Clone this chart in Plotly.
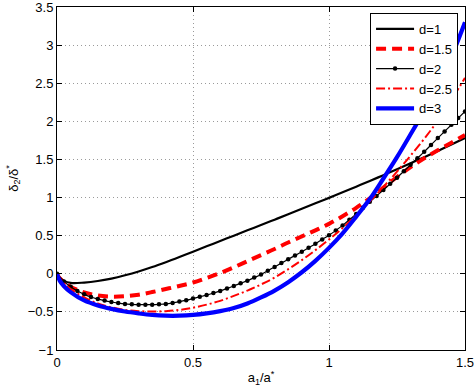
import plotly.graph_objects as go

# x grid (a1/a*) for the smooth curves
x_main = [0, 0.01, 0.025, 0.05, 0.1, 0.15, 0.2, 0.25, 0.3, 0.35, 0.4, 0.45, 0.5,
          0.55, 0.6, 0.65, 0.7, 0.75, 0.8, 0.85, 0.9, 0.95, 1.0, 1.05, 1.1,
          1.15, 1.2, 1.25, 1.3, 1.35, 1.4, 1.45, 1.5]

y_d1 = [0, -0.05, -0.09, -0.12, -0.115, -0.095, -0.063, -0.02, 0.03, 0.088, 0.152, 0.22, 0.29,
        0.36, 0.43, 0.50, 0.57, 0.64, 0.71, 0.781, 0.852, 0.924, 0.996, 1.069, 1.143,
        1.218, 1.294, 1.371, 1.45, 1.53, 1.612, 1.695, 1.78]

y_d15 = [0, -0.06, -0.11, -0.17, -0.245, -0.285, -0.30, -0.295, -0.275, -0.24, -0.20, -0.16, -0.115,
         -0.055, 0.01, 0.085, 0.165, 0.245, 0.325, 0.41, 0.49, 0.57, 0.655, 0.755, 0.865,
         0.99, 1.13, 1.27, 1.40, 1.515, 1.62, 1.72, 1.82]

y_d25 = [0, -0.07, -0.12, -0.20, -0.31, -0.39, -0.44, -0.475, -0.49, -0.495, -0.49, -0.475, -0.445,
         -0.405, -0.355, -0.29, -0.22, -0.14, -0.05, 0.06, 0.18, 0.31, 0.45, 0.60, 0.77,
         0.95, 1.14, 1.34, 1.55, 1.77, 2.01, 2.28, 2.57]

y_d3 = [0, -0.09, -0.16, -0.24, -0.35, -0.415, -0.46, -0.495, -0.52, -0.54, -0.55, -0.55, -0.54,
        -0.52, -0.49, -0.45, -0.39, -0.31, -0.22, -0.11, 0.02, 0.17, 0.34, 0.53, 0.75,
        0.98, 1.25, 1.53, 1.83, 2.14, 2.47, 2.85, 3.3]

# d=2 curve is drawn with dense markers, so it is read on a finer grid
x_d2 = [0, 0.025, 0.05, 0.075, 0.1, 0.125, 0.15, 0.175, 0.2, 0.225, 0.25, 0.275, 0.3,
        0.325, 0.35, 0.375, 0.4, 0.425, 0.45, 0.475, 0.5, 0.525, 0.55, 0.575, 0.6,
        0.625, 0.65, 0.675, 0.7, 0.725, 0.75, 0.775, 0.8, 0.825, 0.85, 0.875, 0.9,
        0.925, 0.95, 0.975, 1.0, 1.025, 1.05, 1.075, 1.1, 1.125, 1.15, 1.175, 1.2,
        1.225, 1.25, 1.275, 1.3, 1.325, 1.35, 1.375, 1.4, 1.425, 1.45, 1.475, 1.5]
y_d2 = [0, -0.10, -0.17, -0.225, -0.27, -0.305, -0.33, -0.352, -0.37, -0.384, -0.395, -0.401, -0.405,
        -0.406, -0.405, -0.401, -0.395, -0.382, -0.365, -0.346, -0.325, -0.303, -0.28, -0.253, -0.225,
        -0.193, -0.16, -0.125, -0.09, -0.05, -0.01, 0.04, 0.09, 0.14, 0.19, 0.24, 0.29,
        0.342, 0.395, 0.45, 0.505, 0.568, 0.635, 0.708, 0.785, 0.865, 0.945, 1.022, 1.10,
        1.18, 1.26, 1.345, 1.43, 1.515, 1.60, 1.69, 1.78, 1.868, 1.955, 2.043, 2.13]

names = ["d=1", "d=1.5", "d=2", "d=2.5", "d=3"]

x_ticks = [0, 0.5, 1, 1.5]
y_ticks = [-1, -0.5, 0, 0.5, 1, 1.5, 2, 2.5, 3, 3.5]

FONT = "Liberation Sans, Arial, sans-serif"

fig = go.Figure()
fig.add_trace(go.Scatter(x=x_main, y=y_d1, name=names[0], mode="lines",
                         line=dict(color="black", width=2.2, shape="spline")))
fig.add_trace(go.Scatter(x=x_main, y=y_d15, name=names[1], mode="lines",
                         line=dict(color="#ff0000", width=4, dash="10px,6px", shape="spline")))
fig.add_trace(go.Scatter(x=x_d2, y=y_d2, name=names[2], mode="lines+markers",
                         line=dict(color="black", width=1.2, shape="spline"),
                         marker=dict(color="black", size=4.5, symbol="circle")))
fig.add_trace(go.Scatter(x=x_main, y=y_d25, name=names[3], mode="lines",
                         line=dict(color="#ff0000", width=2, dash="9px,3px,2px,3px", shape="spline")))
fig.add_trace(go.Scatter(x=x_main, y=y_d3, name=names[4], mode="lines",
                         line=dict(color="#0000ff", width=4.2, shape="spline")))

axis_common = dict(
    showline=True, linecolor="black", linewidth=1, mirror="ticks",
    ticks="inside", ticklen=5, tickcolor="black", tickwidth=1,
    showgrid=True, gridcolor="#9a9a9a", griddash="1px,3px", gridwidth=1,
    zeroline=False, automargin=False, ticklabeloverflow="allow",
    tickfont=dict(family=FONT, size=13, color="black"),
)

fig.update_xaxes(range=[0, 1.5], tickvals=x_ticks, ticktext=[f"{v:g}" for v in x_ticks],
                 title=dict(text="a<sub>1</sub>/a<sup>*</sup>", standoff=4,
                            font=dict(family=FONT, size=13, color="black")),
                 **axis_common)
fig.update_yaxes(range=[-1, 3.5], tickvals=y_ticks,
                 ticktext=[f"{v:g}".replace("-", "\u2212") for v in y_ticks],
                 title=dict(text="δ<sub>2</sub>/δ<sup>*</sup>", standoff=6,
                            font=dict(family=FONT, size=13, color="black")),
                 **axis_common)

fig.update_layout(
    width=474, height=392,
    margin=dict(l=57, r=9, t=7, b=42),
    paper_bgcolor="white", plot_bgcolor="white",
    showlegend=True,
    legend=dict(x=0.983, y=0.983, xanchor="right", yanchor="top",
                bgcolor="white", bordercolor="black", borderwidth=1,
                font=dict(family=FONT, size=13, color="black"),
                tracegroupgap=0, itemwidth=38),
)

fig.write_html("out.html", config={"displayModeBar": False},
               post_script="document.body.style.margin='0';document.body.style.padding='0';")
